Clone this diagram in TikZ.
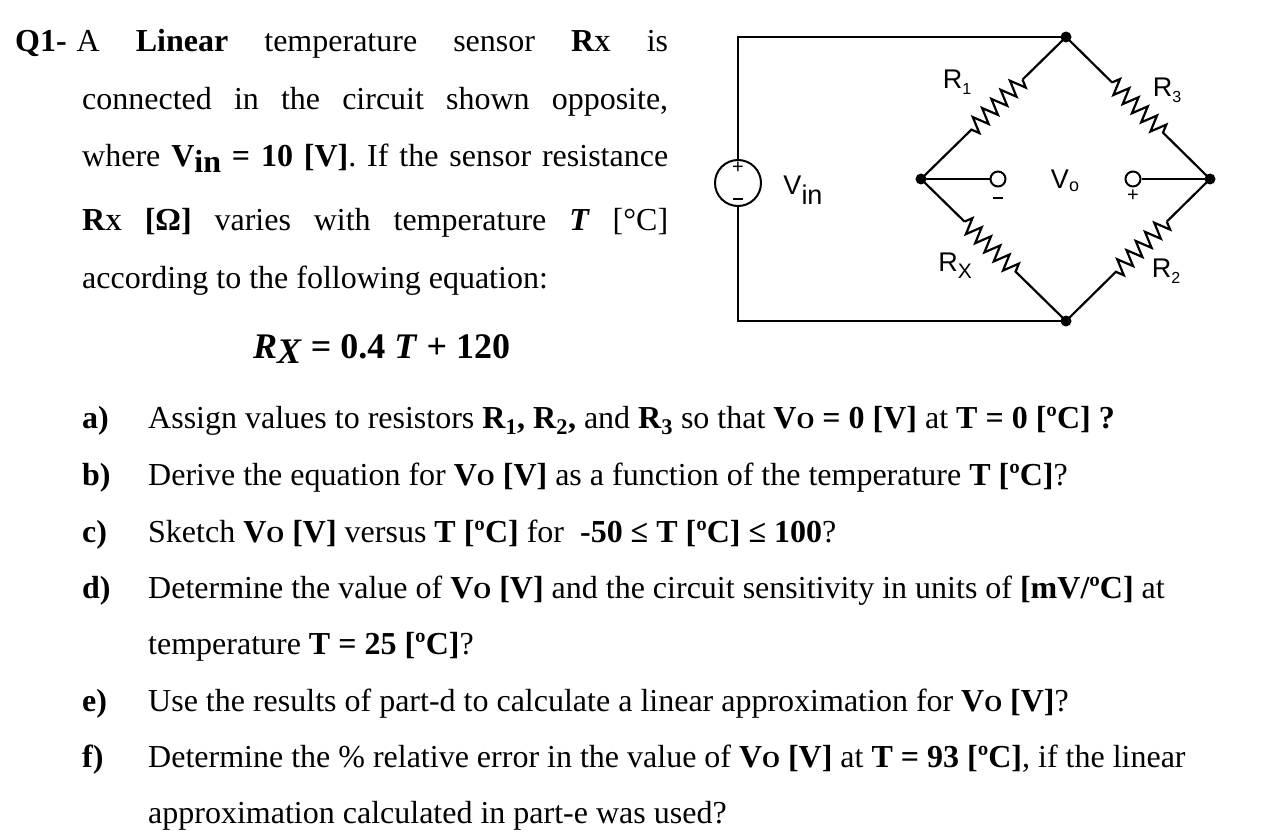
\documentclass[tikz,border=0pt]{standalone}
\usepackage{fontspec}
\setmainfont{Liberation Serif}
\newfontfamily\arial{Liberation Sans}
\usetikzlibrary{decorations.pathmorphing,calc}
\begin{document}
\begin{tikzpicture}[x=1pt,y=-1pt,
  txt/.style={anchor=base west,inner sep=0pt,font=\fontsize{32}{34}\selectfont},
  lab/.style={inner sep=0pt,font=\arial\fontsize{27}{29}\selectfont},
  sgn/.style={inner sep=0pt,font=\arial\fontsize{20}{20}\selectfont},
  wire/.style={line width=2.2pt},
  res/.style={wire,decorate,decoration={zigzag,segment length=13pt,amplitude=8pt}},
  dot/.style={circle,fill,inner sep=0pt,minimum size=11pt}]
\useasboundingbox (0,0) rectangle (1278,840);
\newcommand\Rx{\textbf{R{\fontsize{23}{23}\selectfont X}}}
\newcommand\Vo{\textbf{V{\fontsize{23}{23}\selectfont O}}}
% text
\node[txt] (l1) at (15,52) {\makebox[653pt][s]{\textbf{Q1-}\hspace{10pt}A \textbf{Linear} temperature sensor \Rx\ is}};
\node[txt] (l2) at (82,110) {\makebox[586pt][s]{connected in the circuit shown opposite,}};
\node[txt] (l3) at (82,167) {\makebox[586pt][s]{where \textbf{V\raisebox{-6pt}{in} = 10 [V]}. If the sensor resistance}};
\node[txt] (l4) at (82,230) {\makebox[586pt][s]{\Rx\ \textbf{[Ω]} varies with temperature \textbf{\textit{T}} [°C]}};
\node[txt] (l5) at (82,288) {according to the following equation:};
\node[txt,font=\fontsize{36}{38}\selectfont] (eq) at (253,358) {\textbf{\textit{R}\raisebox{-5pt}{\textit{X}} = 0.4 \textit{T} + 120}};
\foreach \y/\l/\t [count=\i] in {
 428/a)/{Assign values to resistors \textbf{R\textsubscript{1}, R\textsubscript{2},} and \textbf{R\textsubscript{3}} so that \Vo\ \textbf{= 0 [V]} at \textbf{T = 0 [ºC] ?}},
 485/b)/{Derive the equation for \Vo\ \textbf{[V]} as a function of the temperature \textbf{T [ºC]}?},
 542/c)/{Sketch \Vo\ \textbf{[V]} versus \textbf{T [ºC]} for \ \textbf{-50 ≤ T [ºC] ≤ 100}?},
 598/d)/{Determine the value of \Vo\ \textbf{[V]} and the circuit sensitivity in units of \textbf{[mV/ºC]} at},
 711/e)/{Use the results of part-d to calculate a linear approximation for \Vo\ \textbf{[V]}?},
 767/f)/{Determine the \% relative error in the value of \Vo\ \textbf{[V]} at \textbf{T = 93 [ºC]}, if the linear}}
{\node[txt] (lab\i) at (82,\y) {\textbf{\l}}; \node[txt] (it\i) at (148,\y) {\t};}
\node[txt] (d2) at (148,654) {temperature \textbf{T = 25 [ºC]}?};
\node[txt] (f2) at (148,823) {approximation calculated in part-e was used?};
% circuit
\coordinate (T) at (1066,37); \coordinate (B) at (1066,321);
\coordinate (L) at (921,179); \coordinate (R) at (1210,179);
\coordinate (TL) at (738,37); \coordinate (BL) at (738,321);
\node[draw,circle,line width=2pt,minimum size=46pt,inner sep=0pt] (src) at (738,183) {};
\node[sgn] (pl) at (738,168) {+};
\node[sgn] (mi) at (738,199) {\rule{10pt}{1.8pt}};
\draw[wire] (src.north) -- (TL) -- (T);
\draw[wire] (src.south) -- (BL) -- (B);
\draw[wire] (T) -- ($(T)!0.3!(L)$);
\draw[res] ($(T)!0.3!(L)$) -- ($(T)!0.68!(L)$);
\draw[wire] ($(T)!0.68!(L)$) -- (L);
\draw[wire] (T) -- ($(T)!0.32!(R)$);
\draw[res] ($(T)!0.32!(R)$) -- ($(T)!0.7!(R)$);
\draw[wire] ($(T)!0.7!(R)$) -- (R);
\draw[wire] (L) -- ($(L)!0.3!(B)$);
\draw[res] ($(L)!0.3!(B)$) -- ($(L)!0.68!(B)$);
\draw[wire] ($(L)!0.68!(B)$) -- (B);
\draw[wire] (R) -- ($(R)!0.3!(B)$);
\draw[res] ($(R)!0.3!(B)$) -- ($(R)!0.68!(B)$);
\draw[wire] ($(R)!0.68!(B)$) -- (B);
\node[draw,circle,line width=2pt,minimum size=15pt,inner sep=0pt] (tm) at (998,179) {};
\node[draw,circle,line width=2pt,minimum size=15pt,inner sep=0pt] (tp) at (1133,179) {};
\draw[wire] (L) -- (tm.west); \draw[wire] (tp.east) -- (R);
\node[dot] (nT) at (T) {}; \node[dot] (nB) at (B) {};
\node[dot] (nL) at (L) {}; \node[dot] (nR) at (R) {};
\node[sgn] (tmm) at (998,198) {\rule{10pt}{1.8pt}};
\node[sgn] (tpp) at (1133,196) {+};
\node[lab] (vo) at (1065,181) {V\raisebox{-3pt}{\fontsize{18}{18}\selectfont o}};
\node[lab] (vin) at (803,190) {V\raisebox{-10pt}{in}};
\node[lab] (r1) at (957,82) {R\raisebox{-6pt}{\fontsize{16}{16}\selectfont 1}};
\node[lab] (r3) at (1167,90) {R\raisebox{-6pt}{\fontsize{16}{16}\selectfont 3}};
\node[lab] (rx) at (955,266) {R\raisebox{-7pt}{\fontsize{21}{21}\selectfont X}};
\node[lab] (r2) at (1166,271) {R\raisebox{-6pt}{\fontsize{16}{16}\selectfont 2}};
\end{tikzpicture}
\end{document}
